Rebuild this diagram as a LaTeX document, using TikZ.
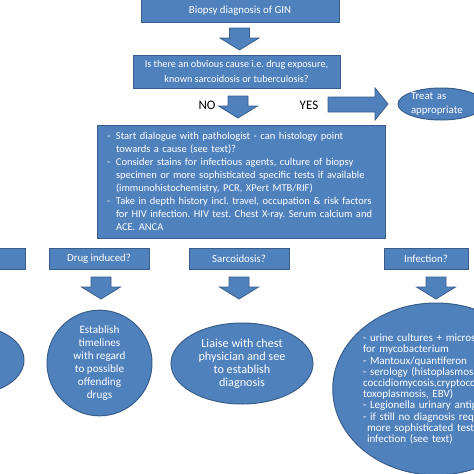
\documentclass[tikz,border=0pt]{standalone}
\usepackage{fontspec}
\setmainfont{Carlito}
\usetikzlibrary{shapes.geometric}
\definecolor{boxblue}{RGB}{79,129,189}
\definecolor{edgeblue}{RGB}{56,93,138}
\frenchspacing
\tikzset{
    every node/.style={text=white, font=\fontsize{10.8}{13}\selectfont,
    	inner sep=0pt}
}
\tikzset{
    step box/.style={rectangle, fill=boxblue, draw=edgeblue, line width=1pt},
    step oval/.style={ellipse, fill=boxblue, draw=edgeblue, line width=1pt},
    block/.style={fill=boxblue, draw=edgeblue, line width=.8pt, line join=miter},
    darrow/.pic={\draw[block] (-10,0) -- (10,0) -- (10,10) -- (19.5,10)
      -- (0,22) -- (-19.5,10) -- (-10,10) -- cycle;}
}
\newcommand{\dashline}[1]{\mbox{\makebox[9pt][l]{-}#1}}
\newcommand{\hangline}[1]{\mbox{\hspace*{9pt}#1}}

\begin{document}
\begin{tikzpicture}[x=1pt, y=-1pt]
  \useasboundingbox (0,0) rectangle (474,474);
  \clip (0,0) rectangle (474,474);
  \node (biopsy) [step box, minimum width=198, minimum height=23]
    at (240,10.5) {Biopsy diagnosis of GIN};
  \node (obvious) [step box, minimum width=207, minimum height=33,
    align=center, font=\fontsize{10.2}{14.5}\selectfont] at (236.5,71.5)
    {Is there an obvious cause i.e. drug exposure,\\known sarcoidosis or tuberculosis?};
  \node (no) [text=black, font=\fontsize{13}{15}\selectfont] at (207,105) {NO};
  \node (yes) [text=black, font=\fontsize{13}{15}\selectfont] at (309,105) {YES};
  \node (treat) [step oval, minimum width=86, minimum height=32, text width=60,
    align=left, font=\fontsize{10.8}{13.5}\selectfont] at (441,104)
    {Treat as\\appropriate};
  \node (workup) [step box, minimum width=288, minimum height=113, text width=268,
    align=left, font=\fontsize{10.5}{12.9}\selectfont] at (241,181.5)
    {\dashline{Start dialogue with pathologist - can histology point}\\
     \hangline{towards a cause (see text)?}\\
     \dashline{Consider stains for infectious agents, culture of biopsy}\\
     \hangline{specimen or more sophisticated specific tests if available}\\
     \hangline{(immunohistochemistry, PCR, XPert MTB/RIF)}\\
     \dashline{Take in depth history incl. travel, occupation \& risk factors}\\
     \hangline{for HIV infection. HIV test. Chest X-ray. Serum calcium and}\\
     \hangline{ACE. ANCA}};

  % second row of questions
  \node (other) [step box, minimum width=100, minimum height=21] at (-25,258.5) {};
  \node (drug) [step box, minimum width=100, minimum height=21] at (99,258.5) {Drug induced?};
  \node (sarc) [step box, minimum width=100, minimum height=21] at (239,258.5) {Sarcoidosis?};
  \node (infect) [step box, minimum width=84, minimum height=21] at (426,258.5) {Infection?};

  \node (otherplan) [step oval, minimum width=104, minimum height=68] at (-28,360) {};
  \node (drugplan) [step oval, minimum width=105, minimum height=80, align=center,
    font=\fontsize{11.2}{13}\selectfont] at (99.5,363)
    {Establish\\timelines\\with regard\\to possible\\offending\\drugs};
  \node (sarcplan) [step oval, minimum width=142, minimum height=81, align=center,
    font=\fontsize{12.2}{13}\selectfont] at (242,363.5)
    {Liaise with chest\\physician and see\\to establish\\diagnosis};
  \node (infectplan) [step oval, minimum width=206, minimum height=172, text width=146,
    align=left, font=\fontsize{11}{11.2}\selectfont] at (436,389)
    {\mbox{- urine cultures + microscopy}\\
     \mbox{for mycobacterium}\\
     \mbox{- Mantoux/quantiferon}\\
     \mbox{- serology (histoplasmosis,}\\
     \mbox{coccidiomycosis,cryptococcosis,}\\
     \mbox{toxoplasmosis, EBV)}\\
     \mbox{- Legionella urinary antigen}\\
     \mbox{- if still no diagnosis request}\\
     \mbox{\hspace*{4pt}more sophisticated tests for}\\
     \mbox{\hspace*{4pt}infection (see text)}};

  % block arrows
  \pic at (239.5,28) {darrow};
  \pic at (238,96) {darrow};
  \pic at (101,277) {darrow};
  \pic at (239,277) {darrow};
  \pic at (436,277) {darrow};
  \draw[block] (328,97) -- (375,97) -- (375,88) -- (388,104) -- (375,120)
    -- (375,112) -- (328,112) -- cycle;
\end{tikzpicture}
\end{document}
